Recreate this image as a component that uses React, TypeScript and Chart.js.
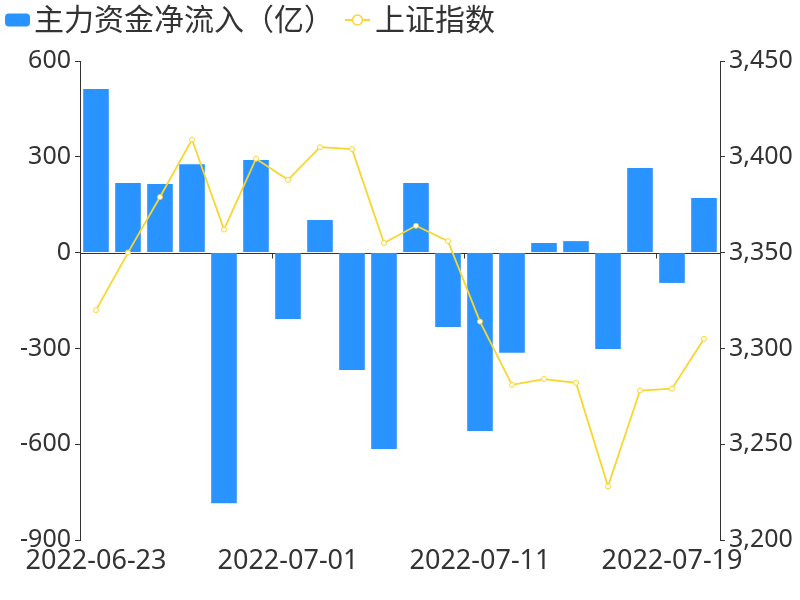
import React, { useEffect, useRef } from "react";
import { Chart, registerables } from "chart.js";

Chart.register(...registerables);

const dates = [
  "2022-06-23", "2022-06-24", "2022-06-27", "2022-06-28", "2022-06-29",
  "2022-06-30", "2022-07-01", "2022-07-04", "2022-07-05", "2022-07-06",
  "2022-07-07", "2022-07-08", "2022-07-11", "2022-07-12", "2022-07-13",
  "2022-07-14", "2022-07-15", "2022-07-18", "2022-07-19", "2022-07-20",
];
const mainFlow = [512, 218, 215, 277, -785, 290, -208, 102, -368, -615, 218, -233, -559, -314, 30, 36, -302, 265, -95, 171];
const shIndex = [3320, 3350, 3379, 3409, 3362, 3399, 3388, 3405, 3404, 3355, 3364, 3356, 3314, 3281, 3284, 3282, 3228, 3278, 3279, 3305];
const flowTicks = [-900, -600, -300, 0, 300, 600];
const indexTicks = [3200, 3250, 3300, 3350, 3400, 3450];
const labelEvery = 6;

const BLUE = "rgb(41,148,255)";
const YELLOW = "rgb(250,214,45)";
const TEXT = "#333";
const AXIS = "#333";
const FONT = '"Noto Sans", "Noto Sans CJK SC", sans-serif';

const axisPlugin = {
  id: "zeroAxis",
  beforeDatasetsDraw(chart: any) {
    const { ctx, chartArea, scales } = chart;
    const x = scales.x;
    const y0 = Math.round(scales.y.getPixelForValue(0)) + 0.5;
    ctx.save();
    ctx.strokeStyle = AXIS;
    ctx.lineWidth = 1;
    ctx.beginPath();
    ctx.moveTo(chartArea.left, y0);
    ctx.lineTo(chartArea.right, y0);
    const half = (x.getPixelForValue(1) - x.getPixelForValue(0)) / 2;
    for (let i = 0; i < dates.length; i += labelEvery) {
      const px = Math.round(x.getPixelForValue(i) - half) + 0.5;
      ctx.moveTo(px, y0);
      ctx.lineTo(px, y0 + 5);
    }
    ctx.stroke();
    ctx.restore();
  },
};

const legendPlugin = {
  id: "customLegend",
  afterDraw(chart: any) {
    const ctx = chart.ctx;
    const ds = chart.data.datasets;
    ctx.save();
    ctx.font = `30px ${FONT}`;
    ctx.textBaseline = "middle";
    ctx.textAlign = "left";
    const cy = 20;
    // bar item
    let x = 5;
    ctx.fillStyle = BLUE;
    ctx.beginPath();
    (ctx as any).roundRect(x, cy - 6.5, 25, 13, 4);
    ctx.fill();
    ctx.fillStyle = TEXT;
    ctx.fillText(ds[0].label, x + 29, cy + 1);
    x = x + 29 + ctx.measureText(ds[0].label).width + 11;
    // line item
    ctx.strokeStyle = YELLOW;
    ctx.lineWidth = 2;
    ctx.beginPath();
    ctx.moveTo(x, cy);
    ctx.lineTo(x + 25, cy);
    ctx.stroke();
    ctx.beginPath();
    ctx.arc(x + 12.5, cy, 5, 0, Math.PI * 2);
    ctx.fillStyle = "#fff";
    ctx.fill();
    ctx.lineWidth = 1.5;
    ctx.stroke();
    ctx.fillStyle = TEXT;
    ctx.fillText(ds[1].label, x + 30, cy + 1);
    ctx.restore();
  },
};

export default function App() {
  const ref = useRef<HTMLCanvasElement>(null);
  useEffect(() => {
    document.body.style.margin = "0";
    const chart = new Chart(ref.current!, {
      type: "bar",
      data: {
        labels: dates,
        datasets: [
          {
            type: "bar",
            label: "主力资金净流入（亿）",
            data: mainFlow,
            backgroundColor: BLUE,
            barPercentage: 0.8,
            categoryPercentage: 1.0,
            yAxisID: "y",
            order: 2,
          },
          {
            type: "line",
            label: "上证指数",
            data: shIndex,
            borderColor: YELLOW,
            borderWidth: 1.8,
            pointRadius: 2.5,
            pointBackgroundColor: "#fff",
            pointBorderColor: YELLOW,
            pointBorderWidth: 1,
            tension: 0,
            yAxisID: "y1",
            order: 1,
          } as any,
        ],
      },
      options: {
        animation: false,
        responsive: false,
        locale: "en-US",
        layout: { padding: { top: 61, left: 0, right: 0, bottom: 0 } },
        plugins: { legend: { display: false }, tooltip: { enabled: false } },
        scales: {
          x: {
            grid: { display: false, drawTicks: false },
            border: { display: false },
            ticks: {
              autoSkip: false,
              maxRotation: 0,
              padding: 5,
              color: TEXT,
              font: { family: FONT, size: 27 },
              callback: (_v: any, i: number) => (i % labelEvery === 0 ? dates[i] : ""),
            },
            afterFit: (s: any) => { s.height = 60; },
          },
          y: {
            position: "left",
            min: -900,
            max: 600,
            afterBuildTicks: (s: any) => { s.ticks = flowTicks.map((v) => ({ value: v })); },
            grid: { drawOnChartArea: false, tickLength: 5, color: AXIS },
            border: { display: true, color: AXIS },
            ticks: { padding: 4, color: TEXT, font: { family: FONT, size: 25 } },
            afterFit: (s: any) => { s.width = 80; },
          },
          y1: {
            position: "right",
            min: 3200,
            max: 3450,
            afterBuildTicks: (s: any) => { s.ticks = indexTicks.map((v) => ({ value: v })); },
            grid: { drawOnChartArea: false, tickLength: 5, color: AXIS },
            border: { display: true, color: AXIS },
            ticks: { padding: 4, color: TEXT, font: { family: FONT, size: 25 } },
            afterFit: (s: any) => { s.width = 80; },
          },
        },
      },
      plugins: [axisPlugin, legendPlugin],
    });
    return () => chart.destroy();
  }, []);
  return (
    <div style={{ width: 800, height: 600, background: "#fff" }}>
      <canvas ref={ref} width={800} height={600} style={{ display: "block" }} />
    </div>
  );
}
